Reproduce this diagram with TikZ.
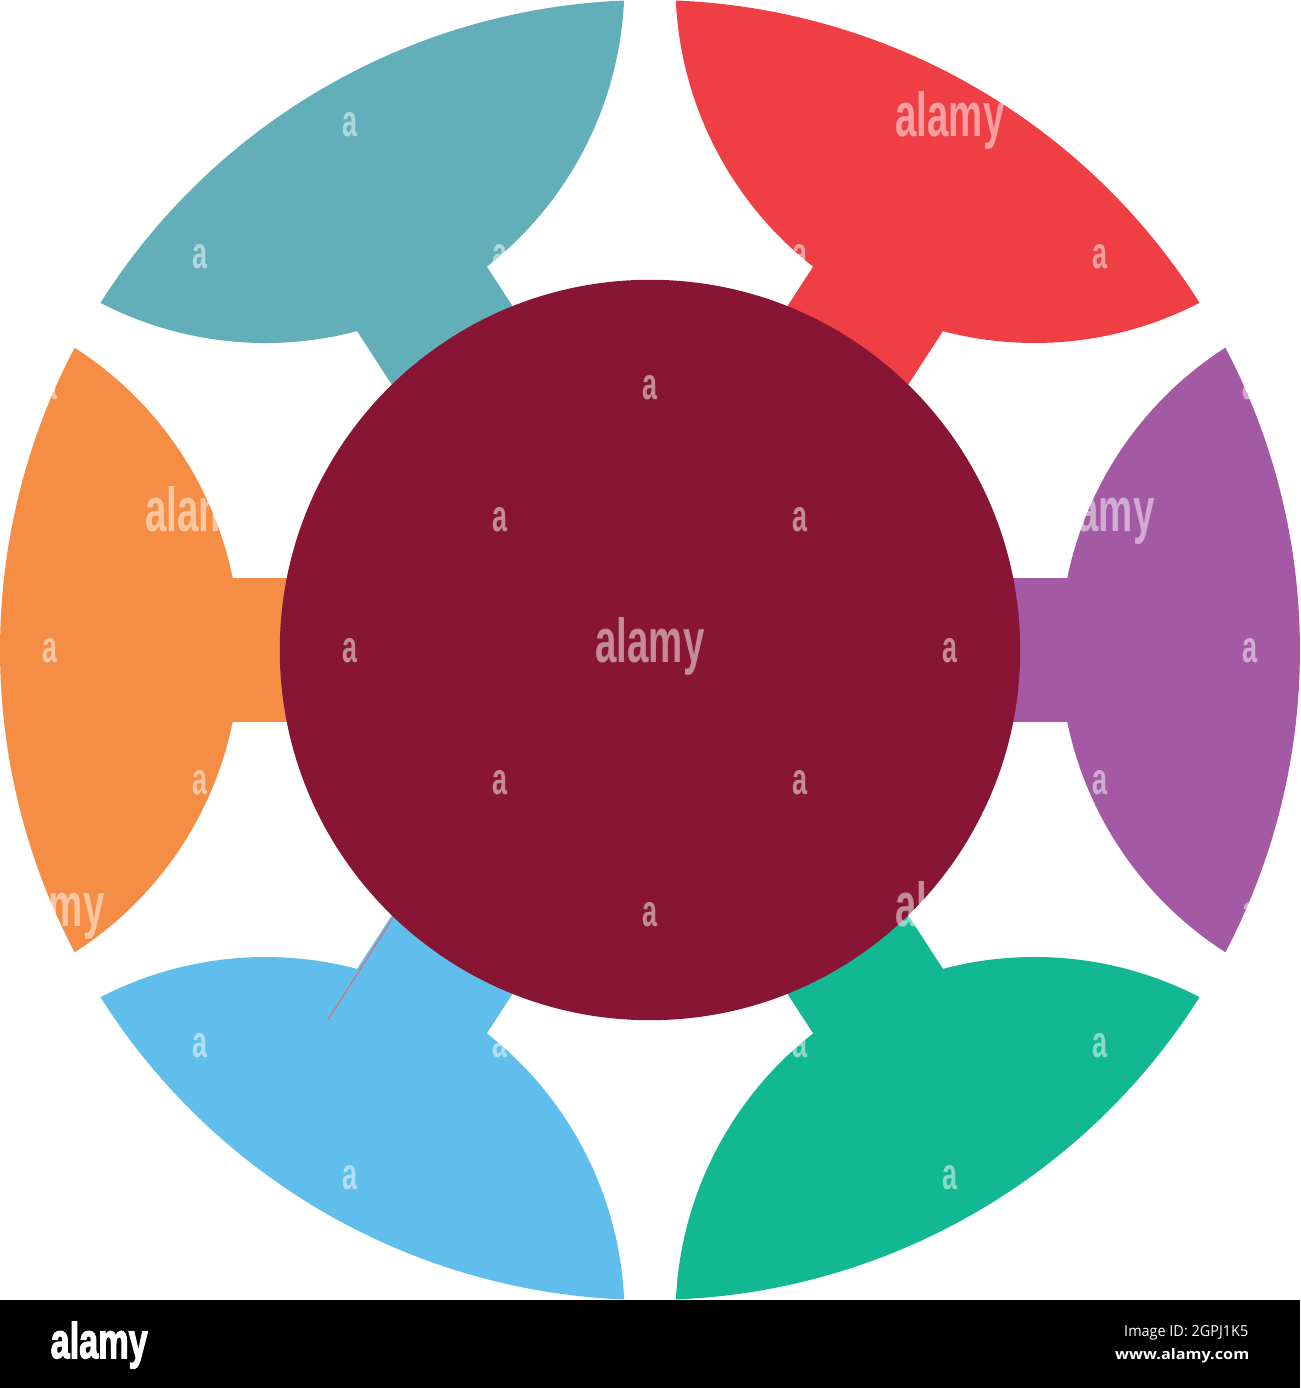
\documentclass[tikz,border=0pt]{standalone}
\usepackage{fontspec}
\setmainfont{Liberation Sans}
\newfontfamily\opensans{Open Sans}
\newfontfamily\heavy{Liberation Sans}[BoldFeatures={FakeBold=3}]
\definecolor{cpurple}{HTML}{A459A5}
\definecolor{cred}{HTML}{EF3E44}
\definecolor{cteal}{HTML}{62AFB9}
\definecolor{corange}{HTML}{F58D44}
\definecolor{cblue}{HTML}{5FBEEC}
\definecolor{cgreen}{HTML}{12B892}
\definecolor{chub}{HTML}{881534}
\definecolor{cline}{HTML}{E8666B}
\begin{document}
\begin{tikzpicture}[x=0.01cm,y=0.01cm,
  wm/.style={text=white,text opacity=0.5,inner sep=0pt,anchor=base,font=\bfseries},
  bartext/.style={text=white,inner sep=0pt}]
\useasboundingbox (-650,-738) rectangle (650,650);
\fill[white] (-650,-650) rectangle (650,650);
% petals with their stems
\foreach \ang/\stem/\col in {0/0/cpurple,60/57/cred,120/123/cteal,180/180/corange,240/237/cblue,300/303/cgreen}{
  \fill[\col, rotate=\stem] (300,-72) rectangle (450,72);
  \fill[\col] (\ang-27.72:650) arc[start angle=\ang-27.72, end angle=\ang+27.72, radius=650]
     arc[start angle=\ang+122.64, end angle=\ang+237.36, radius=359] -- cycle;
}
\draw[line width=0.3pt, cline] (-256.7,-267.3) -- (-321.7,-369.3);
% hub
\node (hub) [circle, fill=chub, minimum size=7.4cm, inner sep=0pt] at (0,0) {};
% watermark pattern
\foreach \y/\xs [count=\k] in {513/{-600,-300,0,600},381.5/{-450,-150,150,450},250/{-600,-300,0,300,600},
  118.5/{-150,150},-13/{-600,-300,300,600},-144.5/{-450,-150,150,450},-276/{-300,0,600},
  -407.5/{-450,-150,150,450},-539/{-600,-300,0,300,600}}{
  \foreach \x [count=\j] in \xs {
    \node (wa\k-\j) [wm] at (\x,\y) {\resizebox{0.15cm}{0.24cm}{a}};
  }
}
\foreach \x/\y [count=\i] in {300/513,-450/118.5,450/118.5,0/-13,-600/-276,300/-276}{
  \node (wal\i) [wm] at (\x,\y) {\resizebox{1.09cm}{0.45cm}{alamy}};
}
% bottom bar
\fill[black] (-650,-738) rectangle (650,-650);
\node (logo) [bartext, anchor=base west, font=\heavy\bfseries] at (-600,-708) {\resizebox{0.97cm}{0.36cm}{alamy}};
\node (imgid) [bartext, anchor=base east] at (599,-686) {\resizebox{1.24cm}{0.11cm}{\opensans Image ID: 2GPJ1K5}};
\node (www) [bartext, anchor=base east] at (600,-709.5) {\resizebox{1.34cm}{0.11cm}{\opensans\bfseries www.alamy.com}};
\end{tikzpicture}
\end{document}
